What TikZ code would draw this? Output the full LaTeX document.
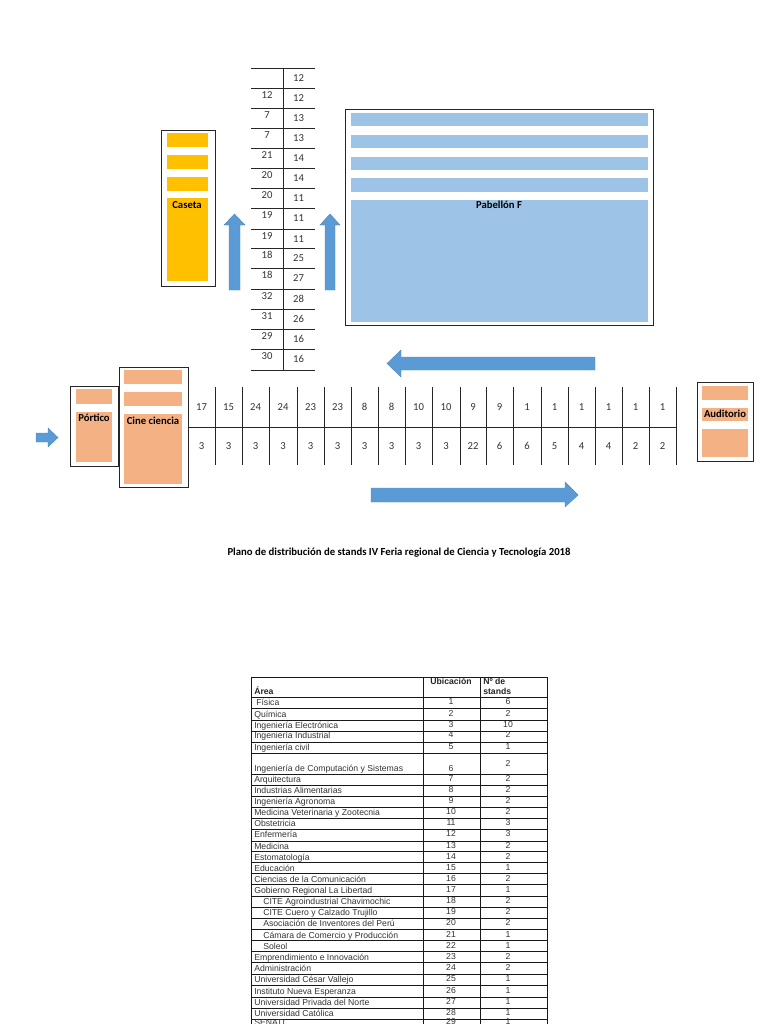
\documentclass[tikz,border=0pt]{standalone}
\usepackage{fontspec}
\setmainfont{Carlito}
\newfontfamily\tablefont{Liberation Sans}
\usetikzlibrary{positioning,calc}
\definecolor{pabblue}{HTML}{9DC3E6}
\definecolor{casgold}{HTML}{FFC000}
\definecolor{cinesalmon}{HTML}{F4B183}
\definecolor{arrblue}{HTML}{5B9BD5}
\tikzset{roombox/.style={draw=black!85, line width=0.7pt, fill=white}}
\tikzset{pabfill/.style={fill=pabblue}}
\tikzset{casfill/.style={fill=casgold}}
\tikzset{cinefill/.style={fill=cinesalmon}}
\tikzset{flowarr/.style={fill=arrblue, draw=arrblue!85!black, line width=0.3pt}}
\tikzset{roomlabel/.style={font=\bfseries\fontsize{8}{9}\selectfont, inner sep=0pt}}
\tikzset{num/.style={font=\fontsize{8}{9}\selectfont, inner sep=0pt, text=black!80}}
\tikzset{grid/.style={draw=black!85, line width=0.7pt}}
\tikzset{tline/.style={draw=black!90, line width=0.7pt}}
\tikzset{tcell/.style={font=\tablefont\fontsize{6.5}{7.5}\selectfont, inner sep=0pt, text=black!80, anchor=base}}
\tikzset{thead/.style={font=\tablefont\bfseries\fontsize{6.5}{7.5}\selectfont, inner sep=0pt, text=black!85}}
\begin{document}
\begin{tikzpicture}[x=0.75pt,y=-0.75pt]
	\useasboundingbox (0,0) rectangle (768,1024);
	\clip (0,0) rectangle (768,1024);
	% caseta
	\draw[roombox] (161,130) rectangle (215,286);
	\foreach \ya/\yb in {133/147,155/169,177/191,198/281}
		\fill[casfill] (167,\ya) rectangle (208,\yb);
	\node[roomlabel] (caseta) at (187,205) {Caseta};
	% pabellon
	\draw[roombox] (345,109) rectangle (653,325);
	\foreach \ya/\yb in {113/126,135/148,157/170,178/192,200/322}
		\fill[pabfill] (351,\ya) rectangle (648,\yb);
	\node[roomlabel] (pabellon) at (499,205) {Pabellón F};
	% portico, cine, auditorio
	\draw[roombox] (70,386) rectangle (118,466);
	\foreach \ya/\yb in {389/404,412/462}
		\fill[cinefill] (76,\ya) rectangle (112,\yb);
	\node[roomlabel] (portico) at (94,418) {Pórtico};
	\draw[roombox] (119,367) rectangle (188,487);
	\foreach \ya/\yb in {370/384,392/406,414/484}
		\fill[cinefill] (124,\ya) rectangle (182,\yb);
	\node[roomlabel] (cine) at (153,421) {Cine ciencia};
	\draw[roombox] (697,382) rectangle (753,461);
	\foreach \ya/\yb in {386/400,408/421,429/457}
		\fill[cinefill] (702,\ya) rectangle (748,\yb);
	\node[roomlabel] (auditorio) at (725,414) {Auditorio};
	% flechas
	\fill[flowarr] (229,290) -- (229,225) -- (224,225) -- (234.5,214) -- (245,225) -- (240,225) -- (240,290) -- cycle;
	\fill[flowarr] (325,290) -- (325,225) -- (320,225) -- (330,214) -- (340,225) -- (335,225) -- (335,290) -- cycle;
	\fill[flowarr] (595,357) -- (401,357) -- (401,350) -- (387,363.5) -- (401,377) -- (401,370) -- (595,370) -- cycle;
	\fill[flowarr] (371,488) -- (565,488) -- (565,482) -- (578,495) -- (565,507) -- (565,502) -- (371,502) -- cycle;
	\fill[flowarr] (36,433) -- (48,433) -- (48,428) -- (58,437.5) -- (48,447) -- (48,442) -- (36,442) -- cycle;
	% stands verticales
	\draw[grid] (283,68) -- (283,370);
	\foreach \yl in {68,88,108,128,148,168,188,208,229,248,268,289,309,329,349,370}
		\draw[grid] (251,\yl) -- (315,\yl);
	\foreach \yl/\izq/\der in {68//12,88/12/12,108/7/13,128/7/13,148/21/14,168/20/14,188/20/11,208/19/11,229/19/11,248/18/25,268/18/27,289/32/28,309/31/26,329/29/16,349/30/16}{
		\node[num] (izq\yl) at (267,\yl+7) {\izq};
		\node[num] (der\yl) at (298.5,\yl+10) {\der};
	}
	% stands horizontales
	\draw[grid] (188,427) -- (676,427);
	\foreach \xl in {188,215,242,269,297,324,351,378,405,432,460,486,513,541,568,595,622,649,676}
		\draw[grid] (\xl,387) -- (\xl,465);
	\foreach \xc/\arr/\aba in {201.5/17/3,228.5/15/3,255.5/24/3,283/24/3,310.5/23/3,337.5/23/3,364.5/8/3,391.5/8/3,418.5/10/3,446/10/3,473/9/22,499.5/9/6,527/1/6,554.5/1/5,581.5/1/4,608.5/1/4,635.5/1/2,662.5/1/2}{
		\node[num] (arr\xc) at (\xc,407) {\arr};
		\node[num] (aba\xc) at (\xc,446) {\aba};
	}
	\node[font=\bfseries\fontsize{8.05}{9}\selectfont, inner sep=0pt] (titulo) at (399,552.5) {Plano de distribución de stands IV Feria regional de Ciencia y Tecnología 2018};
	% tabla
	\foreach \xl in {251,423,480,547}
		\draw[tline] (\xl,677) -- (\xl,1024);
	\foreach \yl in {677,697,708,720,731,742,753,774,785,796,807,818,829,841,851,862,873,884,896,907,918,929,940,951,962,974,985,997,1008,1019}
		\draw[tline] (251,\yl) -- (547,\yl);
	\node[thead, anchor=west] (harea) at (254,691) {Área};
	\node[thead] (hubic) at (451,681) {Ubicación};
	\node[thead, anchor=west] (hnde) at (483,681) {Nº de};
	\node[thead, anchor=west] (hstands) at (483,691) {stands};
	\foreach \yc/\xa/\area/\ubic/\nst in {
		702/256/Física/1/6,
		714/254/Química/2/2,
		725/254/Ingeniería Electrónica/3/10,
		735.5/254/Ingeniería Industrial/4/2,
		747/254/Ingeniería civil/5/1,
		779/254/Arquitectura/7/2,
		790/254/Industrias Alimentarias/8/2,
		801/254/Ingeniería Agronoma/9/2,
		812/254/Medicina Veterinaria y Zootecnia/10/2,
		823/254/Obstetricia/11/3,
		834/254/Enfermería/12/3,
		846/254/Medicina/13/2,
		857/254/Estomatología/14/2,
		868/254/Educación/15/1,
		879/254/Ciencias de la Comunicación/16/2,
		890/254/Gobierno Regional La Libertad/17/1,
		901/263/CITE Agroindustrial Chavimochic/18/2,
		912.5/263/CITE Cuero y Calzado Trujillo/19/2,
		923.5/263/Asociación de Inventores del Perú/20/2,
		935/263/Cámara de Comercio y Producción/21/1,
		946/263/Soleol/22/1,
		957/254/Emprendimiento e Innovación/23/2,
		968/254/Administración/24/2,
		979.5/254/Universidad César Vallejo/25/1,
		991/254/Instituto Nueva Esperanza/26/1,
		1002/254/Universidad Privada del Norte/27/1,
		1013/254/Universidad Católica/28/1,
		1022.5/254/SENATI/29/1}{
		\node[tcell, anchor=base west] (area\ubic) at (\xa,\yc+3.3) {\area};
		\node[tcell] (ubic\ubic) at (451,\yc+2.2) {\ubic};
		\node[tcell] (nst\ubic) at (508,\yc+2.2) {\nst};
	}
	\node[tcell, anchor=base west] (area6) at (254,771.3) {Ingeniería de Computación y Sistemas};
	\node[tcell] (ubic6) at (451,771.3) {6};
	\node[tcell] (nst6) at (508,766.3) {2};
\end{tikzpicture}
\end{document}
